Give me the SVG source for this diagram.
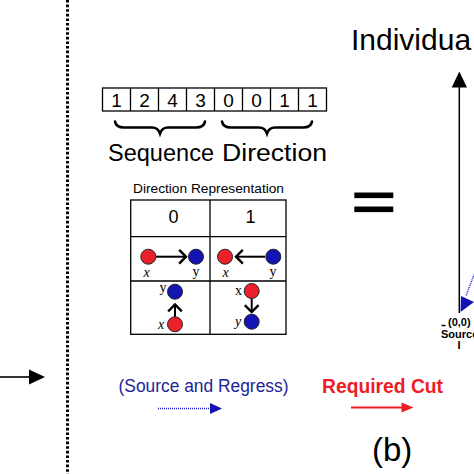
<svg xmlns="http://www.w3.org/2000/svg" width="474" height="474" viewBox="0 0 474 474">
<style>
.s{font-family:"Liberation Sans",Arial,sans-serif;fill:#000}
.t{font-family:"Liberation Serif","Times New Roman",serif;font-size:14px;fill:#000;text-anchor:middle}
.i{font-style:italic}
.cell{fill:none;stroke:#000;stroke-width:1.3}
.red{fill:#ea2128;stroke:#222;stroke-width:1}
.blue{fill:#1414b4;stroke:#222;stroke-width:1}
.ln{stroke:#000;stroke-width:2;fill:none}
.chev{stroke:#000;stroke-width:2.4;fill:none;stroke-linecap:square}
.num{font-family:"Liberation Sans",Arial,sans-serif;font-size:19px;text-anchor:middle}
</style>
<defs>
<marker id="ab" markerWidth="10" markerHeight="10" refX="9" refY="5" orient="auto" markerUnits="userSpaceOnUse"><path d="M0,0 L10,5 L0,10 Z" fill="#000"/></marker>
</defs>
<rect width="474" height="474" fill="#fff"/>

<g id="divider">
<line x1="67.5" y1="0" x2="67.5" y2="474" stroke="#000" stroke-width="3" stroke-dasharray="2.6 2"/>
</g>

<g id="connectors">
<line x1="0" y1="377" x2="30" y2="377" stroke="#000" stroke-width="1.6"/>
<polygon points="29,369.5 45,377 29,384.5" fill="#000"/>
<line x1="459.3" y1="86" x2="459.3" y2="313" stroke="#000" stroke-width="1.5"/>
<polygon points="459.3,71.5 451.7,87.5 467,87.5" fill="#000"/>
<line x1="475" y1="272" x2="466" y2="296" stroke="#1a1ad0" stroke-width="1.4" stroke-dasharray="1 1"/>
<polygon points="460.5,312 461,296 474,302" fill="#1414b4"/>
<line x1="158" y1="408.5" x2="211" y2="408.5" stroke="#1a1ad0" stroke-width="1.4" stroke-dasharray="1 1"/>
<polygon points="210,403 222,408.5 210,414" fill="#1414b4"/>
<line x1="351" y1="407.5" x2="403" y2="407.5" stroke="#ee1c25" stroke-width="2"/>
<polygon points="401.5,402.5 413.5,407.5 401.5,412.5" fill="#ee1c25"/>
</g>

<g id="sequence">
<rect x="102.5" y="88" width="224" height="23" class="cell"/>
<path d="M130.5,88V111M158.5,88V111M186.5,88V111M214.5,88V111M242.5,88V111M270.5,88V111M298.5,88V111" class="cell"/>
<text class="num" x="116.5" y="107">1</text>
<text class="num" x="144.5" y="107">2</text>
<text class="num" x="172.5" y="107">4</text>
<text class="num" x="200.5" y="107">3</text>
<text class="num" x="228.5" y="107">0</text>
<text class="num" x="256.5" y="107">0</text>
<text class="num" x="284.5" y="107">1</text>
<text class="num" x="312.5" y="107">1</text>
<path d="M115,121.5 Q116,127.5 124,127.5 L152,127.5 Q158,127.5 160,133.5 Q162,127.5 168,127.5 L196,127.5 Q204,127.5 205,121.5" fill="none" stroke="#000" stroke-width="2.6" stroke-linecap="round"/>
<path d="M222,121.5 Q223,127.5 231,127.5 L259,127.5 Q265,127.5 267,133.5 Q269,127.5 275,127.5 L303,127.5 Q311,127.5 312,121.5" fill="none" stroke="#000" stroke-width="2.6" stroke-linecap="round"/>
<text class="s" x="108" y="161" font-size="23" textLength="106" lengthAdjust="spacingAndGlyphs">Sequence</text>
<text class="s" x="222" y="161" font-size="23" textLength="105" lengthAdjust="spacingAndGlyphs">Direction</text>
</g>

<g id="direction-table">
<text class="s" x="133" y="193" font-size="13" textLength="151" lengthAdjust="spacingAndGlyphs">Direction Representation</text>
<rect x="130.7" y="200" width="155.3" height="134.3" class="cell"/>
<path d="M210,200V334.3M130.7,236.7H286M130.7,281H286" class="cell"/>
<text class="s" x="173.5" y="223" font-size="18" text-anchor="middle">0</text>
<text class="s" x="250.5" y="223" font-size="18" text-anchor="middle">1</text>
<!-- row 2 left -->
<line x1="156" y1="256.7" x2="186" y2="256.7" class="ln"/>
<path d="M180,250.7 L186,256.7 L180,262.7" class="chev"/>
<circle cx="148.3" cy="256.7" r="7.5" class="red"/>
<circle cx="196" cy="256.7" r="7.5" class="blue"/>
<text class="t i" x="146.5" y="277">x</text>
<text class="t" x="196" y="276">y</text>
<!-- row 2 right -->
<line x1="236" y1="256.7" x2="265" y2="256.7" class="ln"/>
<path d="M242,250.7 L236,256.7 L242,262.7" class="chev"/>
<circle cx="225" cy="256.7" r="7.5" class="red"/>
<circle cx="273.3" cy="256.7" r="7.5" class="blue"/>
<text class="t i" x="225.5" y="277">x</text>
<text class="t" x="273" y="276">y</text>
<!-- row 3 left -->
<line x1="175" y1="304.5" x2="175" y2="317" class="ln"/>
<path d="M169,310.5 L175,304.5 L181,310.5" class="chev"/>
<circle cx="175" cy="291.7" r="7.5" class="blue"/>
<circle cx="175" cy="324.3" r="7.5" class="red"/>
<text class="t" x="163" y="292">y</text>
<text class="t i" x="161" y="329">x</text>
<!-- row 3 right -->
<line x1="251.7" y1="298.5" x2="251.7" y2="312" class="ln"/>
<path d="M245.7,306 L251.7,312 L257.7,306" class="chev"/>
<circle cx="251.7" cy="291" r="7.5" class="red"/>
<circle cx="251.7" cy="321.7" r="7.5" class="blue"/>
<text class="t" x="238.5" y="295">x</text>
<text class="t i" x="238" y="326">y</text>
</g>

<g id="equals">
<rect x="354.3" y="192.5" width="39" height="5.6" fill="#000"/>
<rect x="354.3" y="206.5" width="39" height="5.6" fill="#000"/>
</g>

<g id="axis-labels">
<text class="s" x="351" y="50" font-size="30">Individua</text>
<line x1="441.5" y1="325.5" x2="445.5" y2="325.5" stroke="#000" stroke-width="1.5"/>
<text class="s" x="448" y="326" font-size="11" font-weight="bold">(0,0)</text>
<text class="s" x="441" y="338" font-size="11" font-weight="bold">Source</text>
<text class="s" x="459" y="349" font-size="11" font-weight="bold" text-anchor="middle">I</text>
</g>

<g id="legend">
<text class="s" x="118.5" y="391.5" font-size="17.5" fill="#22229a" style="fill:#22229a" textLength="170" lengthAdjust="spacingAndGlyphs">(Source and Regress)</text>
<text class="s" x="322" y="393" font-size="21" font-weight="bold" style="fill:#ee1c25" textLength="121" lengthAdjust="spacingAndGlyphs">Required Cut</text>
<text class="s" x="372" y="461" font-size="33">(b)</text>
</g>
</svg>
